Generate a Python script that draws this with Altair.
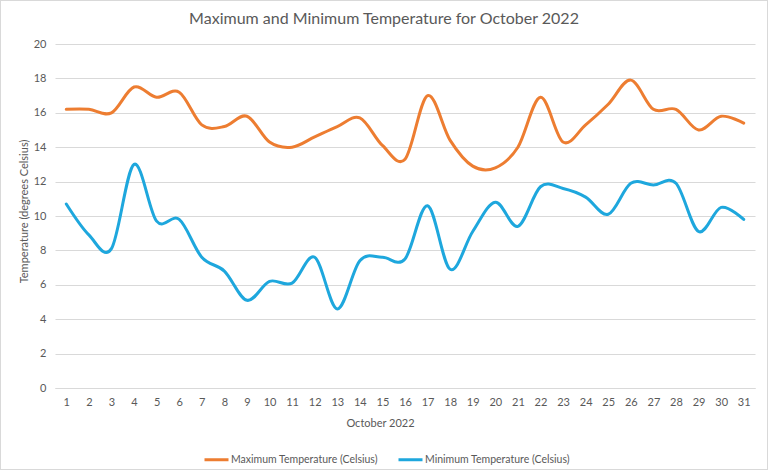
import altair as alt
import pandas as pd

# Daily temperatures for October 2022 (degrees Celsius)
days = list(range(1, 32))
max_temp = [16.2, 16.2, 16.0, 17.5, 16.9, 17.2, 15.3, 15.2, 15.8, 14.3,
            14.0, 14.6, 15.2, 15.7, 14.1, 13.3, 17.0, 14.4, 12.9, 12.8,
            14.0, 16.9, 14.3, 15.3, 16.5, 17.9, 16.2, 16.2, 15.0, 15.8, 15.4]
min_temp = [10.7, 8.9, 8.1, 13.0, 9.7, 9.8, 7.6, 6.8, 5.1, 6.2,
            6.1, 7.6, 4.6, 7.4, 7.6, 7.5, 10.6, 6.9, 9.1, 10.8,
            9.4, 11.7, 11.6, 11.1, 10.1, 11.9, 11.8, 11.9, 9.1, 10.5, 9.8]

series_names = ["Maximum Temperature (Celsius)", "Minimum Temperature (Celsius)"]
series_colors = ["#ED7D31", "#1EA7DD"]

df = pd.DataFrame({
    "day": days * 2,
    "temp": max_temp + min_temp,
    "series": [series_names[0]] * len(days) + [series_names[1]] * len(days),
})

FONT = "Lato"
GREY = "#595959"

lines = alt.Chart(df).mark_line(
    interpolate="cardinal", strokeWidth=3, strokeCap="round"
).encode(
    x=alt.X("day:O", title="October 2022",
            scale=alt.Scale(type="point", padding=0.5),
            axis=alt.Axis(labelAngle=0, ticks=False, grid=False,
                          domainColor="#d9d9d9", labelPadding=8,
                          titlePadding=10, titleX=325)),
    y=alt.Y("temp:Q", title="Temperature (degrees Celsius)",
            scale=alt.Scale(domain=[0, 20], nice=False),
            axis=alt.Axis(values=list(range(0, 21, 2)), ticks=False,
                          domain=False, gridColor="#d9d9d9",
                          labelPadding=9, titlePadding=4, titleY=167)),
    color=alt.Color("series:N", sort=series_names,
                    scale=alt.Scale(domain=series_names, range=series_colors),
                    legend=alt.Legend(title=None, orient="none",
                                      direction="horizontal",
                                      legendX=148, legendY=402,
                                      symbolType="stroke", symbolSize=576,
                                      symbolStrokeWidth=3, labelOffset=1,
                                      labelLimit=0, columnPadding=14)),
)

# Outer chart-area border
frame = alt.Chart(df).mark_rect(
    fill=None, stroke="#d9d9d9", strokeWidth=1
).encode(
    x=alt.value(-54.5), x2=alt.value(712.5),
    y=alt.value(-43.5), y2=alt.value(425.5),
)

chart = alt.layer(lines, frame).properties(
    width=700, height=344,
    padding={"left": 55, "top": 44, "right": 13, "bottom": 82},
    autosize=alt.AutoSizeParams(type="none"),
    title=alt.TitleParams("Maximum and Minimum Temperature for October 2022",
                          fontSize=16, font=FONT, color=GREY,
                          fontWeight="normal", offset=-27, dx=-21),
).configure_view(stroke=None).configure_axis(
    labelFont=FONT, titleFont=FONT, labelFontSize=11, titleFontSize=11,
    labelColor=GREY, titleColor=GREY, titleFontWeight="normal",
).configure_legend(
    labelFont=FONT, labelFontSize=10.5, labelColor=GREY,
)

chart.save("out.html", embed_options={"renderer": "svg", "actions": False})
